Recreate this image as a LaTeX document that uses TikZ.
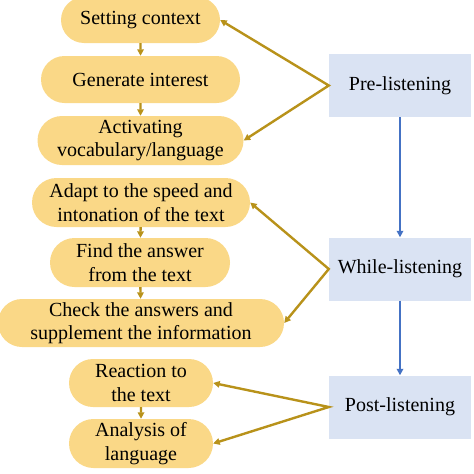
\documentclass[tikz,border=0pt]{standalone}
\usepackage{fontspec}
\setmainfont{Liberation Serif}
\usetikzlibrary{shapes.misc,arrows.meta}
\definecolor{pillfill}{RGB}{250,216,135}
\definecolor{goldline}{RGB}{184,146,26}
\definecolor{boxfill}{RGB}{218,227,243}
\definecolor{blueline}{RGB}{68,114,196}
\tikzset{
  pill/.style={rounded rectangle, fill=pillfill, align=center, inner sep=0pt, minimum height=48pt},
  stage/.style={rectangle, fill=boxfill, align=center, minimum width=142pt, minimum height=63pt},
  goldarrow/.style={-{Triangle[length=6.5pt,width=6.5pt]}, goldline, line width=2.4pt},
  phasearrow/.style={{Triangle[length=6.5pt,width=6.5pt]}-{Triangle[length=6.5pt,width=6.5pt]}, goldline, line width=2.4pt},
  bluearrow/.style={-{Triangle[length=6.5pt,width=6.5pt]}, blueline, line width=2pt}
}
\begin{document}
\begin{tikzpicture}[x=1pt, y=-1pt, font=\fontsize{20}{23.5}\selectfont] %Início do desenho
  \useasboundingbox (0,0) rectangle (474,474); %Moldura
  %Etapas do lado esquerdo
  \node[pill, minimum width=159pt, minimum height=46pt] (setting) at (140.5,20) {Setting context};
  \node[pill, minimum width=199pt, minimum height=47pt] (interest) at (140.5,79.5) {Generate interest};
  \node[pill, minimum width=206pt, minimum height=49pt] (activating) at (140.5,140.5) {Activating\\vocabulary/language};
  \node[pill, minimum width=218pt, minimum height=49pt] (adapt) at (141,202.5) {Adapt to the speed and\\intonation of the text};
  \node[pill, minimum width=180pt, minimum height=49pt] (find) at (140,262.5) {Find the answer\\from the text};
  \node[pill, minimum width=286pt, minimum height=48pt] (check) at (141,323) {Check the answers and\\supplement the information};
  \node[pill, minimum width=144pt, minimum height=48pt] (reaction) at (141,383) {Reaction to\\the text};
  \node[pill, minimum width=144pt, minimum height=49pt] (analysis) at (141,443.5) {Analysis of\\language};
  %Fases do lado direito
  \node[stage] (pre) at (400,85.5) {Pre-listening};
  \node[stage] (while) at (400,269) {While-listening};
  \node[stage] (post) at (400,407) {Post-listening};
  %Setas entre as etapas
  \draw[goldarrow] (setting) -- (interest);
  \draw[goldarrow] (interest) -- (activating);
  \draw[goldarrow] (adapt) -- (find);
  \draw[goldarrow] (find) -- (check);
  \draw[goldarrow] (reaction) -- (analysis);
  %Setas das fases
  \draw[phasearrow] (setting.east) -- (pre.west) -- (activating.east);
  \draw[phasearrow] (adapt.east) -- (while.west) -- (check.east);
  \draw[phasearrow] (reaction.east) -- (post.west) -- (analysis.east);
  \draw[bluearrow] (pre) -- (while);
  \draw[bluearrow] (while) -- (post);
\end{tikzpicture}
\end{document}
